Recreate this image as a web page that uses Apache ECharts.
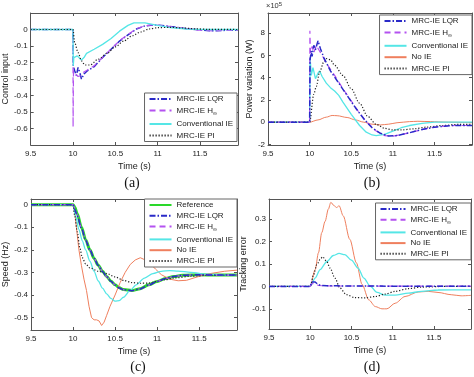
<!DOCTYPE html>
<html>
<head>
<meta charset="utf-8">
<script src="https://cdn.jsdelivr.net/npm/echarts@6/dist/echarts.min.js"></script>
<style>
html, body { margin: 0; padding: 0; background: #fff; }
#chart { width: 474px; height: 377px; }
</style>
</head>
<body>
<div id="chart"></div>
<script>
// tick labels
var timeTicks = [9.5, 10, 10.5, 11, 11.5];
var ctrlTicks = [0, -0.1, -0.2, -0.3, -0.4, -0.5, -0.6];
var powerTicks = [-2, 0, 2, 4, 6, 8];
var speedTicks = [0, -0.1, -0.2, -0.3, -0.4, -0.5];
var errTicks = [-0.1, 0, 0.1, 0.2, 0.3];

// (a) control input
var ctrlLQR = [[9.5,0],[10,0],[10.003,-0.22],[10.02,-0.25],[10.04,-0.28],[10.06,-0.23],[10.08,-0.26],[10.1,-0.3],[10.13,-0.27],[10.17,-0.25],[10.25,-0.225],[10.35,-0.17],[10.45,-0.12],[10.55,-0.07],[10.65,-0.032],[10.75,0.003],[10.85,0.022],[10.95,0.028],[11.05,0.025],[11.2,0.015],[11.35,0.005],[11.5,-0.003],[11.65,-0.008],[11.8,-0.005],[11.95,-0.005]];
var ctrlHinf = [[9.5,0],[10,0],[10.001,-0.59],[10.006,-0.25],[10.03,-0.27],[10.06,-0.285],[10.09,-0.28],[10.12,-0.26],[10.17,-0.245],[10.25,-0.22],[10.35,-0.168],[10.45,-0.118],[10.55,-0.068],[10.65,-0.03],[10.75,0.005],[10.85,0.023],[10.95,0.028],[11.05,0.024],[11.2,0.014],[11.35,0.004],[11.5,-0.004],[11.65,-0.008],[11.8,-0.005],[11.95,-0.005]];
var ctrlConv = [[9.5,0],[10,0],[10.003,-0.22],[10.01,-0.17],[10.05,-0.16],[10.1,-0.185],[10.13,-0.17],[10.16,-0.145],[10.25,-0.12],[10.35,-0.09],[10.45,-0.055],[10.55,-0.01],[10.65,0.025],[10.72,0.04],[10.85,0.04],[11,0.025],[11.15,0.012],[11.35,0.002],[11.6,0],[11.95,0]];
var ctrlPI = [[9.5,0],[10,0],[10.02,-0.08],[10.06,-0.14],[10.1,-0.19],[10.14,-0.215],[10.2,-0.215],[10.3,-0.18],[10.4,-0.145],[10.5,-0.105],[10.6,-0.07],[10.7,-0.038],[10.8,-0.015],[10.9,0.003],[11,0.011],[11.15,0.013],[11.3,0.009],[11.45,0.004],[11.6,0.001],[11.95,0]];

// (b) power variation, x10^5 W
var powLQR = [[9.5,0],[10,0],[10.005,5.6],[10.02,6.4],[10.03,5.9],[10.05,6.9],[10.07,6.5],[10.1,7.3],[10.13,6.6],[10.17,5.8],[10.25,4.6],[10.35,3.5],[10.45,2.4],[10.55,1.3],[10.65,0.3],[10.75,-0.5],[10.85,-1.0],[10.95,-1.25],[11.05,-1.2],[11.2,-0.95],[11.35,-0.65],[11.5,-0.45],[11.7,-0.3],[11.95,-0.3]];
var powHinf = [[9.5,0],[10,0],[10.003,8.2],[10.01,6.2],[10.03,6.8],[10.05,6.2],[10.08,6.9],[10.11,6.5],[10.15,6.0],[10.2,5.3],[10.3,4.2],[10.4,3.0],[10.5,1.9],[10.6,0.8],[10.7,-0.1],[10.8,-0.8],[10.9,-1.2],[11,-1.25],[11.1,-1.12],[11.25,-0.85],[11.4,-0.58],[11.55,-0.4],[11.75,-0.3],[11.95,-0.3]];
var powConv = [[9.5,0],[10,0],[10.005,5.8],[10.02,4.2],[10.04,4.9],[10.07,3.9],[10.1,4.4],[10.12,4.6],[10.15,4.1],[10.2,3.5],[10.25,3.1],[10.3,2.8],[10.35,2.4],[10.4,1.8],[10.5,0.7],[10.6,-0.3],[10.68,-0.9],[10.75,-1.15],[10.8,-1.2],[10.9,-1.1],[11,-0.8],[11.1,-0.5],[11.2,-0.3],[11.35,-0.1],[11.5,0],[11.95,0]];
var powNoIE = [[9.5,0],[10,0],[10.1,0.2],[10.2,0.45],[10.27,0.6],[10.33,0.58],[10.45,0.42],[10.55,0.2],[10.65,0],[10.75,-0.18],[10.85,-0.25],[10.95,-0.18],[11.05,-0.05],[11.2,0.05],[11.3,0.08],[11.45,0.05],[11.65,0],[11.95,-0.05]];
var powPI = [[9.5,0],[10,0],[10.05,2.5],[10.08,3.2],[10.12,4.5],[10.17,5.4],[10.2,5.7],[10.25,5.6],[10.3,5.1],[10.4,4.2],[10.5,3.0],[10.6,1.7],[10.7,0.5],[10.8,-0.2],[10.9,-0.55],[11,-0.7],[11.1,-0.7],[11.25,-0.6],[11.4,-0.45],[11.6,-0.3],[11.8,-0.2],[11.95,-0.2]];

// (c) speed
var spdRef = [[9.5,0],[10,0],[10.02,-0.01],[10.05,-0.04],[10.1,-0.1],[10.15,-0.155],[10.2,-0.2],[10.25,-0.238],[10.3,-0.268],[10.35,-0.295],[10.4,-0.318],[10.45,-0.338],[10.5,-0.355],[10.55,-0.368],[10.6,-0.376],[10.7,-0.38],[10.8,-0.372],[10.9,-0.355],[11,-0.34],[11.1,-0.327],[11.2,-0.318],[11.3,-0.313],[11.5,-0.31],[11.7,-0.312],[11.95,-0.312]];
var spdLQR = [[9.5,0],[10,0],[10.02,-0.02],[10.05,-0.05],[10.1,-0.105],[10.15,-0.158],[10.2,-0.2],[10.25,-0.238],[10.3,-0.269],[10.35,-0.296],[10.4,-0.319],[10.45,-0.339],[10.5,-0.356],[10.55,-0.369],[10.6,-0.377],[10.7,-0.381],[10.8,-0.373],[10.9,-0.356],[11,-0.34],[11.1,-0.327],[11.2,-0.318],[11.3,-0.313],[11.5,-0.31],[11.7,-0.312],[11.95,-0.312]];
var spdHinf = [[9.5,0],[10,0],[10.02,-0.015],[10.05,-0.045],[10.1,-0.102],[10.15,-0.156],[10.2,-0.2],[10.25,-0.238],[10.3,-0.268],[10.35,-0.296],[10.4,-0.319],[10.45,-0.339],[10.5,-0.356],[10.55,-0.369],[10.6,-0.377],[10.7,-0.381],[10.8,-0.373],[10.9,-0.356],[11,-0.34],[11.1,-0.327],[11.2,-0.318],[11.3,-0.313],[11.5,-0.31],[11.7,-0.312],[11.95,-0.312]];
var spdConv = [[9.5,0],[10,0],[10.03,-0.05],[10.07,-0.11],[10.11,-0.16],[10.15,-0.2],[10.2,-0.25],[10.25,-0.295],[10.3,-0.338],[10.35,-0.37],[10.4,-0.395],[10.45,-0.415],[10.5,-0.427],[10.55,-0.425],[10.6,-0.41],[10.68,-0.38],[10.75,-0.355],[10.85,-0.325],[10.95,-0.305],[11.05,-0.295],[11.15,-0.292],[11.25,-0.294],[11.4,-0.3],[11.6,-0.308],[11.8,-0.312],[11.95,-0.312]];
var spdNoIE = [[9.5,0],[10,0],[10.02,-0.03],[10.04,-0.1],[10.07,-0.2],[10.1,-0.27],[10.13,-0.33],[10.16,-0.38],[10.19,-0.45],[10.22,-0.5],[10.25,-0.51],[10.28,-0.51],[10.31,-0.515],[10.34,-0.535],[10.37,-0.52],[10.4,-0.49],[10.44,-0.45],[10.5,-0.4],[10.56,-0.345],[10.62,-0.3],[10.68,-0.265],[10.74,-0.245],[10.8,-0.235],[10.86,-0.245],[10.92,-0.262],[10.98,-0.285],[11.05,-0.31],[11.15,-0.33],[11.25,-0.337],[11.35,-0.335],[11.45,-0.323],[11.6,-0.307],[11.8,-0.295],[11.95,-0.29]];
var spdPI = [[9.5,0],[10,0],[10.02,-0.05],[10.05,-0.12],[10.08,-0.19],[10.11,-0.235],[10.15,-0.262],[10.2,-0.28],[10.3,-0.295],[10.4,-0.305],[10.5,-0.32],[10.6,-0.335],[10.7,-0.345],[10.8,-0.348],[10.9,-0.347],[11,-0.34],[11.1,-0.332],[11.2,-0.325],[11.4,-0.317],[11.6,-0.313],[11.95,-0.312]];

// (d) tracking error
var errLQR = [[9.5,0],[10,0],[10.02,0.02],[10.06,0.02],[10.09,0.01],[10.12,0.005],[10.2,0.003],[10.5,0.002],[11,0.001],[11.95,0.001]];
var errHinf = [[9.5,0],[10,0],[10.02,0.012],[10.06,0.012],[10.1,0.004],[10.2,0.002],[11.95,0.001]];
var errConv = [[9.5,0],[10,0],[10.06,0.037],[10.12,0.075],[10.2,0.11],[10.28,0.138],[10.35,0.147],[10.42,0.142],[10.5,0.117],[10.58,0.082],[10.65,0.037],[10.73,0],[10.81,-0.027],[10.91,-0.039],[11.03,-0.039],[11.19,-0.03],[11.35,-0.022],[11.55,-0.016],[11.95,-0.015]];
var errNoIE = [[9.5,0],[10,0],[10.06,0.075],[10.1,0.15],[10.14,0.24],[10.18,0.29],[10.22,0.345],[10.25,0.375],[10.29,0.36],[10.32,0.352],[10.35,0.36],[10.4,0.315],[10.48,0.21],[10.56,0.105],[10.63,0.008],[10.71,-0.06],[10.79,-0.09],[10.87,-0.1],[10.93,-0.1],[11.03,-0.075],[11.15,-0.045],[11.31,-0.025],[11.43,-0.022],[11.55,-0.027],[11.71,-0.037],[11.83,-0.042],[11.95,-0.04]];
var errPI = [[9.5,0],[10,0],[10.04,0.052],[10.08,0.097],[10.12,0.12],[10.15,0.132],[10.2,0.112],[10.24,0.082],[10.3,0.037],[10.36,-0.007],[10.44,-0.037],[10.54,-0.05],[10.67,-0.051],[10.79,-0.045],[10.91,-0.034],[11.03,-0.022],[11.19,-0.01],[11.35,-0.003],[11.63,0],[11.95,0]];

var FONT = 'Liberation Sans, Arial, Helvetica, sans-serif';
var SERIF = 'Liberation Serif, Times New Roman, serif';
var AX = '#555';

// line styles per controller
var styles = {
  'Reference':       { color: '#2ad82a', width: 3, type: 'solid' },
  'MRC-IE LQR':      { color: '#2a2ac8', width: 1.5, type: [6, 2, 1.5, 2] },
  'MRC-IE H∞':       { color: '#b452f0', width: 1.2, type: [6, 4] },
  'Conventional IE': { color: '#55e6e6', width: 1.3, type: 'solid' },
  'No IE':           { color: '#ef7f5e', width: 1, type: 'solid' },
  'MRC-IE PI':       { color: '#222222', width: 1.2, type: [1.2, 1.8] }
};

function mkLine(name, data, idx, smooth) {
  var s = styles[name];
  return {
    type: 'line', name: name, data: data,
    xAxisIndex: idx * 2, yAxisIndex: idx * 2,
    symbol: 'none', smooth: smooth ? 0.3 : false, smoothMonotone: 'x',
    clip: true, animation: false,
    lineStyle: { color: s.color, width: s.width, type: s.type },
    itemStyle: { color: s.color }
  };
}

// grids: left, top, width, height
var grids = [
  { left: 30, top: 13, width: 208, height: 132 },
  { left: 268, top: 13, width: 204, height: 132 },
  { left: 31, top: 199, width: 206, height: 131 },
  { left: 269, top: 199, width: 202, height: 130 }
];
var yRanges = [[-0.7, 0.1], [-2.05, 9.8], [-0.555, 0.025], [-0.19, 0.39]];
var yTickSets = [ctrlTicks, powerTicks, speedTicks, errTicks];
var yNames = ['Control input', 'Power variation (W)', 'Speed (Hz)', 'Tracking error'];
var yNameGaps = [20, 13, 21, 15];

var xAxes = [], yAxes = [];
grids.forEach(function (g, i) {
  xAxes.push({
    type: 'value', gridIndex: i, min: 9.5, max: 11.95, position: 'bottom',
    name: 'Time (s)', nameLocation: 'middle', nameGap: 17,
    nameTextStyle: { fontFamily: FONT, fontSize: 9, color: '#222' },
    axisLine: { show: true, onZero: false, lineStyle: { color: AX, width: 1 } },
    axisTick: { show: true, inside: true, length: 3, customValues: timeTicks, lineStyle: { color: AX } },
    axisLabel: { customValues: timeTicks, fontFamily: FONT, fontSize: 8, color: '#222', margin: 5 },
    splitLine: { show: false }
  });
  xAxes.push({
    type: 'value', gridIndex: i, min: 9.5, max: 11.95, position: 'top',
    axisLine: { show: true, onZero: false, lineStyle: { color: AX, width: 1 } },
    axisTick: { show: true, inside: true, length: 3, customValues: timeTicks, lineStyle: { color: AX } },
    axisLabel: { show: false }, splitLine: { show: false }
  });
  yAxes.push({
    type: 'value', gridIndex: i, min: yRanges[i][0], max: yRanges[i][1], position: 'left',
    name: yNames[i], nameLocation: 'middle', nameGap: yNameGaps[i],
    nameTextStyle: { fontFamily: FONT, fontSize: 9, color: '#222' },
    axisLine: { show: true, onZero: false, lineStyle: { color: AX, width: 1 } },
    axisTick: { show: true, inside: true, length: 3, customValues: yTickSets[i], lineStyle: { color: AX } },
    axisLabel: { customValues: yTickSets[i], fontFamily: FONT, fontSize: 8, color: '#222', margin: 3 },
    splitLine: { show: false }
  });
  yAxes.push({
    type: 'value', gridIndex: i, min: yRanges[i][0], max: yRanges[i][1], position: 'right',
    axisLine: { show: true, onZero: false, lineStyle: { color: AX, width: 1 } },
    axisTick: { show: true, inside: true, length: 3, customValues: yTickSets[i], lineStyle: { color: AX } },
    axisLabel: { show: false }, splitLine: { show: false }
  });
});

function legendFmt(n) {
  if (n === 'MRC-IE H∞') return '{t|MRC-IE H}{s|∞}';
  return '{t|' + n + '}';
}
function mkLegend(names, top, right, gap, itemWidth) {
  return {
    orient: 'vertical', top: top, right: right, data: names,
    backgroundColor: '#fff', borderColor: '#666', borderWidth: 1, borderRadius: 0,
    padding: [2, 4, 2, 4], itemGap: gap, itemWidth: itemWidth, itemHeight: 8,
    selectedMode: false, formatter: legendFmt,
    itemStyle: { opacity: 0, borderWidth: 0 },
    textStyle: {
      fontFamily: FONT, fontSize: 8, color: '#222',
      rich: { t: { fontFamily: FONT, fontSize: 8, color: '#222' }, s: { fontFamily: FONT, fontSize: 5.5, color: '#222', padding: [6, 0, 0, 0] } }
    }
  };
}

var series = [
  mkLine('MRC-IE LQR', ctrlLQR, 0), mkLine('MRC-IE H∞', ctrlHinf, 0),
  mkLine('Conventional IE', ctrlConv, 0), mkLine('MRC-IE PI', ctrlPI, 0, true),

  mkLine('No IE', powNoIE, 1, true), mkLine('Conventional IE', powConv, 1),
  mkLine('MRC-IE PI', powPI, 1, true), mkLine('MRC-IE H∞', powHinf, 1), mkLine('MRC-IE LQR', powLQR, 1),

  mkLine('Reference', spdRef, 2, true), mkLine('No IE', spdNoIE, 2),
  mkLine('Conventional IE', spdConv, 2, true), mkLine('MRC-IE PI', spdPI, 2, true),
  mkLine('MRC-IE H∞', spdHinf, 2, true), mkLine('MRC-IE LQR', spdLQR, 2, true),

  mkLine('No IE', errNoIE, 3, true), mkLine('Conventional IE', errConv, 3, true),
  mkLine('MRC-IE PI', errPI, 3, true), mkLine('MRC-IE H∞', errHinf, 3), mkLine('MRC-IE LQR', errLQR, 3)
];

var chart = echarts.init(document.getElementById('chart'), null, { renderer: 'canvas' });
chart.setOption({
  backgroundColor: '#fff',
  animation: false,
  grid: grids.map(function (g) { return { left: g.left, top: g.top, width: g.width, height: g.height, show: false }; }),
  xAxis: xAxes,
  yAxis: yAxes,
  legend: [
    mkLegend(['MRC-IE LQR', 'MRC-IE H∞', 'Conventional IE', 'MRC-IE PI'], 93, 237, 3.5, 22),
    mkLegend(['MRC-IE LQR', 'MRC-IE H∞', 'Conventional IE', 'No IE', 'MRC-IE PI'], 15, 2, 3.4, 22),
    mkLegend(['Reference', 'MRC-IE LQR', 'MRC-IE H∞', 'Conventional IE', 'No IE', 'MRC-IE PI'], 199, 237, 2.8, 22),
    mkLegend(['MRC-IE LQR', 'MRC-IE H∞', 'Conventional IE', 'No IE', 'MRC-IE PI'], 203, 3, 2.7, 25)
  ],
  graphic: [
    { type: 'text', left: 266, top: 1, style: { text: '{a|×10}{b|5}', rich: { a: { fontFamily: FONT, fontSize: 7.5, fill: '#333', padding: [4, 0, 0, 0] }, b: { fontFamily: FONT, fontSize: 6, fill: '#333' } } } },
    { type: 'text', x: 132, y: 183, style: { text: '(a)', fontFamily: SERIF, fontSize: 14, fill: '#111', align: 'center', verticalAlign: 'middle' } },
    { type: 'text', x: 372, y: 183, style: { text: '(b)', fontFamily: SERIF, fontSize: 14, fill: '#111', align: 'center', verticalAlign: 'middle' } },
    { type: 'text', x: 138, y: 367, style: { text: '(c)', fontFamily: SERIF, fontSize: 14, fill: '#111', align: 'center', verticalAlign: 'middle' } },
    { type: 'text', x: 372, y: 367, style: { text: '(d)', fontFamily: SERIF, fontSize: 14, fill: '#111', align: 'center', verticalAlign: 'middle' } }
  ],
  series: series
});
</script>
</body>
</html>
